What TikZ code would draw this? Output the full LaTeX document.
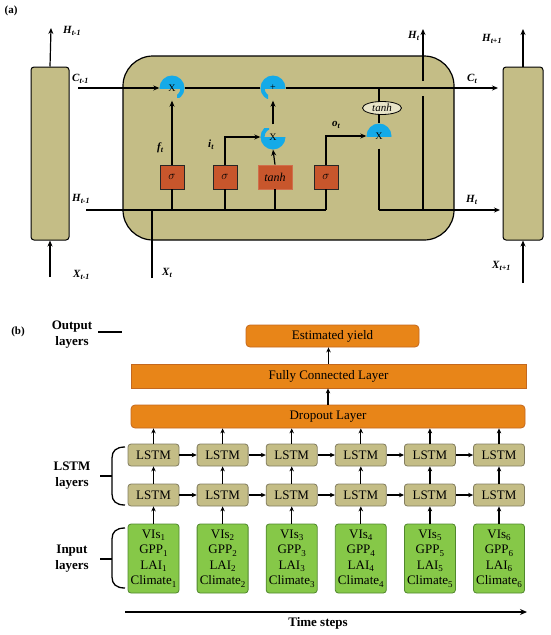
\documentclass[tikz,border=0pt]{standalone}
\usepackage{fontspec}
\setmainfont{Liberation Serif}
\usetikzlibrary{arrows.meta,shapes.geometric}
\definecolor{cellc}{RGB}{196,189,134}
\definecolor{gblue}{RGB}{20,170,232}
\definecolor{sigc}{RGB}{200,86,44}
\definecolor{ellc}{RGB}{232,228,200}
\definecolor{orng}{RGB}{232,133,24}
\definecolor{orngd}{RGB}{196,104,30}
\definecolor{lstmd}{RGB}{130,125,95}
\definecolor{grn}{RGB}{134,200,72}
\definecolor{grnd}{RGB}{80,135,45}
\newcommand\lsub[1]{\raisebox{-0.45ex}{\fontsize{8}{8}\selectfont #1}}
\newcommand\isub[1]{\raisebox{-0.4ex}{\fontsize{9}{9}\selectfont #1}}
% blue part of a gate: disc clipped to a box given in page offsets (y downwards)
\newcommand\bluepart[5]{\begin{scope}\clip ([shift={(#2,#3)}]#1) rectangle ([shift={(#4,#5)}]#1); \fill[gblue] (#1) circle[radius=12.5pt]; \end{scope}}
\newcommand\bluerim[5]{\begin{scope}\clip ([shift={(#2,#3)}]#1) rectangle ([shift={(#4,#5)}]#1); \fill[gblue, even odd rule] (#1) circle[radius=12.5pt] (#1) circle[radius=8.5pt]; \end{scope}}
\begin{document}
\begin{tikzpicture}[x=1pt,y=-1pt,
  >={Stealth[length=6pt,width=5pt]},
  wire/.style={line width=1.2pt},
  block/.style={draw, line width=1pt, fill=cellc, rounded corners=3pt, inner sep=0},
  lab/.style={font=\fontsize{11}{13}\selectfont\bfseries\itshape, inner sep=0, anchor=west},
  gatec/.style={circle, minimum size=25pt, inner sep=0, font=\fontsize{10}{10}\selectfont},
  sig/.style={draw=black!85, line width=0.8pt, fill=sigc, minimum width=24pt, minimum height=24pt, inner sep=0, font=\fontsize{12}{12}\selectfont\itshape},
  olay/.style={draw=orngd, line width=0.8pt, fill=orng, inner sep=0, font=\fontsize{13}{15}\selectfont},
  lstm/.style={draw=lstmd, line width=0.8pt, fill=cellc, rounded corners=3pt, minimum width=51pt, minimum height=22pt, inner sep=0, font=\fontsize{13}{15}\selectfont},
  inp/.style={draw=grnd, line width=0.8pt, fill=grn, rounded corners=3pt, minimum width=51pt, minimum height=69pt, inner sep=0, align=center, font=\fontsize{13}{15.5}\selectfont},
  side/.style={font=\fontsize{13}{16}\selectfont\bfseries, align=center, inner sep=0},
  arr/.style={-{Stealth[length=5pt,width=4.5pt]}, line width=1.3pt}
]
\useasboundingbox (0,0) rectangle (550,635);

% ---------------- (a) ----------------
\node[font=\fontsize{11}{13}\selectfont\bfseries, inner sep=0] (pa) at (11,11) {(a)};

\node[block, minimum width=38pt, minimum height=173pt] (L) at (50,153.5) {};
\node[block, minimum width=40pt, minimum height=173pt] (R) at (523,153.5) {};
\node[draw, line width=1.2pt, fill=cellc, rounded corners=30pt, minimum width=331pt, minimum height=184pt, inner sep=0] (cell) at (288.5,148) {};

% gates
\coordinate (g1) at (172,88);
\coordinate (g2) at (273,88);
\coordinate (g3) at (273,137);
\coordinate (g4) at (379,136);
\bluepart{g1}{-13}{-13}{13}{0}
\bluerim{g1}{5}{0}{13}{9}
\bluepart{g2}{-13}{-13}{13}{0}
\bluerim{g2}{-13}{0}{-5}{10}
\bluepart{g3}{-13}{0}{13}{13}
\bluerim{g3}{-13}{-9}{-4}{0}
\bluepart{g4}{-13}{-13}{13}{0}
\node[gatec] (G1) at (g1) {X};
\node[gatec] (G2) at (g2) {+};
\node[gatec] (G3) at (g3) {X};
\node[gatec] (G4) at (g4) {X};

% sigma boxes
\node[sig] (s1) at (172,177) {$\sigma$};
\node[sig] (s2) at (225,177) {$\sigma$};
\node[sig, draw=sigc!85!white, minimum width=34pt] (st) at (275,177) {tanh};
\node[sig] (s4) at (326,177) {$\sigma$};

% coordinates
\coordinate (cin) at (78,88);
\coordinate (cout) at (498,88);
\coordinate (cj) at (379,88);
\coordinate (hin) at (86,210);
\coordinate (hbus) at (326,210);
\coordinate (hj1) at (379,210);
\coordinate (hj2) at (423,210);
\coordinate (hout) at (500,210);
\coordinate (xt) at (152,278);
\coordinate (xtb) at (152,210);
\coordinate (xl) at (50,277);
\coordinate (xr) at (523,283);
\coordinate (hlt) at (51,28);
\coordinate (hrt) at (523,29);
\coordinate (hmt) at (423,29);

% cell-state line
\draw[wire,->] (cin) -- (G1.west);
\draw[wire] (G1.east) -- (G2.west);
\draw[wire,->] (G2.east) -- (cout);
% output branch
\draw[wire] (cj) -- (G4.north);
\node[ellipse, draw, line width=0.8pt, fill=ellc, minimum width=39pt, minimum height=13pt, inner sep=0, font=\fontsize{11}{11}\selectfont\itshape] (th) at (382,108) {tanh};
\draw[wire] (G4.south) -- (hj1);
\draw[wire,->] (hj1) -- (hout);
\draw[wire] (hj2) -- (423,96);
\draw[wire,->] (423,81) -- (hmt);

% hidden bus
\draw[wire] (hin) -- (hbus);
\draw[wire] (xt) -- (xtb);
\draw[wire] (s1.south) -- (s1.south |- hin);
\draw[wire] (s2.south) -- (s2.south |- hin);
\draw[wire] (st.south) -- (st.south |- hin);
\draw[wire] (s4.south) -- (s4.south |- hin);
% gates inputs
\draw[wire,->] (s1.north) -- (G1.south);
\draw[wire,->] (s2.north) |- (G3.west);
\draw[wire,->] (st.north) -- (G3.south);
\draw[wire,->] (G3.north) -- (G2.south);
\draw[wire,->] (s4.north) |- (G4.west);

% outer arrows
\draw[wire,->] (L.north) -- (hlt);
\draw[wire,->] (R.north) -- (hrt);
\draw[wire,->] (xl) -- (L.south);
\draw[wire,->] (xr) -- (R.south);

% labels
\node[lab] at (63,31) {H\lsub{t-1}};
\node[lab] at (72,79) {C\lsub{t-1}};
\node[lab] at (157,148) {f\lsub{t}};
\node[lab] at (208,145) {i\lsub{t}};
\node[lab] at (332,125) {o\lsub{t}};
\node[lab] at (408,36) {H\lsub{t}};
\node[lab] at (482,39) {H\lsub{t+1}};
\node[lab] at (467,79) {C\lsub{t}};
\node[lab] at (72,199) {H\lsub{t-1}};
\node[lab] at (466,200) {H\lsub{t}};
\node[lab] at (73,275) {X\lsub{t-1}};
\node[lab] at (162,273) {X\lsub{t}};
\node[lab] at (492,266) {X\lsub{t+1}};

% ---------------- (b) ----------------
\node[font=\fontsize{11}{13}\selectfont\bfseries, inner sep=0] (pb) at (18,332) {(b)};
\node[side] (outl) at (72,335) {Output\\layers};
\node[side] (lstml) at (72,476) {LSTM\\layers};
\node[side] (inl) at (72,559) {Input\\layers};
\draw[line width=1.3pt] (98,332) -- (122,332);

\node[olay, rounded corners=4pt, minimum width=173pt, minimum height=22pt] (est) at (332.5,336) {Estimated yield};
\node[olay, minimum width=395pt, minimum height=24pt] (fc) at (328.5,376) {Fully Connected Layer};
\node[olay, rounded corners=4pt, minimum width=394pt, minimum height=23pt] (drop) at (328,416.5) {Dropout Layer};
\draw[arr] (fc.north) -- (fc.north |- est.south);
\draw[arr] (drop.north) -- (drop.north |- fc.south);

\foreach \i in {1,...,6} {
  \pgfmathsetmacro\xx{153.5+69.1*(\i-1)}
  \node[lstm] (lt\i) at (\xx,455) {LSTM};
  \node[lstm] (lb\i) at (\xx,495) {LSTM};
  \node[inp] (in\i) at (\xx,558.5) {VIs\isub{\i}\\GPP\isub{\i}\\LAI\isub{\i}\\Climate\isub{\i}};
  \draw[arr] (in\i.north) -- (lb\i.south);
  \draw[arr] (lb\i.north) -- (lt\i.south);
  \draw[arr] (lt\i.north) -- (lt\i.north |- drop.south);
}
\foreach \i [evaluate=\i as \j using int(\i+1)] in {1,...,5} {
  \draw[arr] (lt\i.east) -- (lt\j.west);
  \draw[arr] (lb\i.east) -- (lb\j.west);
}

% braces
\draw[line width=1.3pt] (125,447) .. controls (116,447) and (112,451) .. (112,458) -- (112,494) .. controls (112,501) and (116,505) .. (125,505);
\draw[line width=1.3pt] (100,476) -- (112,476);
\draw[line width=1.3pt] (125,528) .. controls (116,528) and (112,532) .. (112,539) -- (112,577) .. controls (112,584) and (116,588) .. (125,588);
\draw[line width=1.3pt] (100,559) -- (112,559);

% time axis
\coordinate (ts0) at (125,612);
\coordinate (ts1) at (527,612);
\draw[line width=1.6pt, -{Stealth[length=7pt,width=6pt]}] (ts0) -- (ts1);
\node[side] (tsl) at (318,623) {Time steps};
\end{tikzpicture}
\end{document}
